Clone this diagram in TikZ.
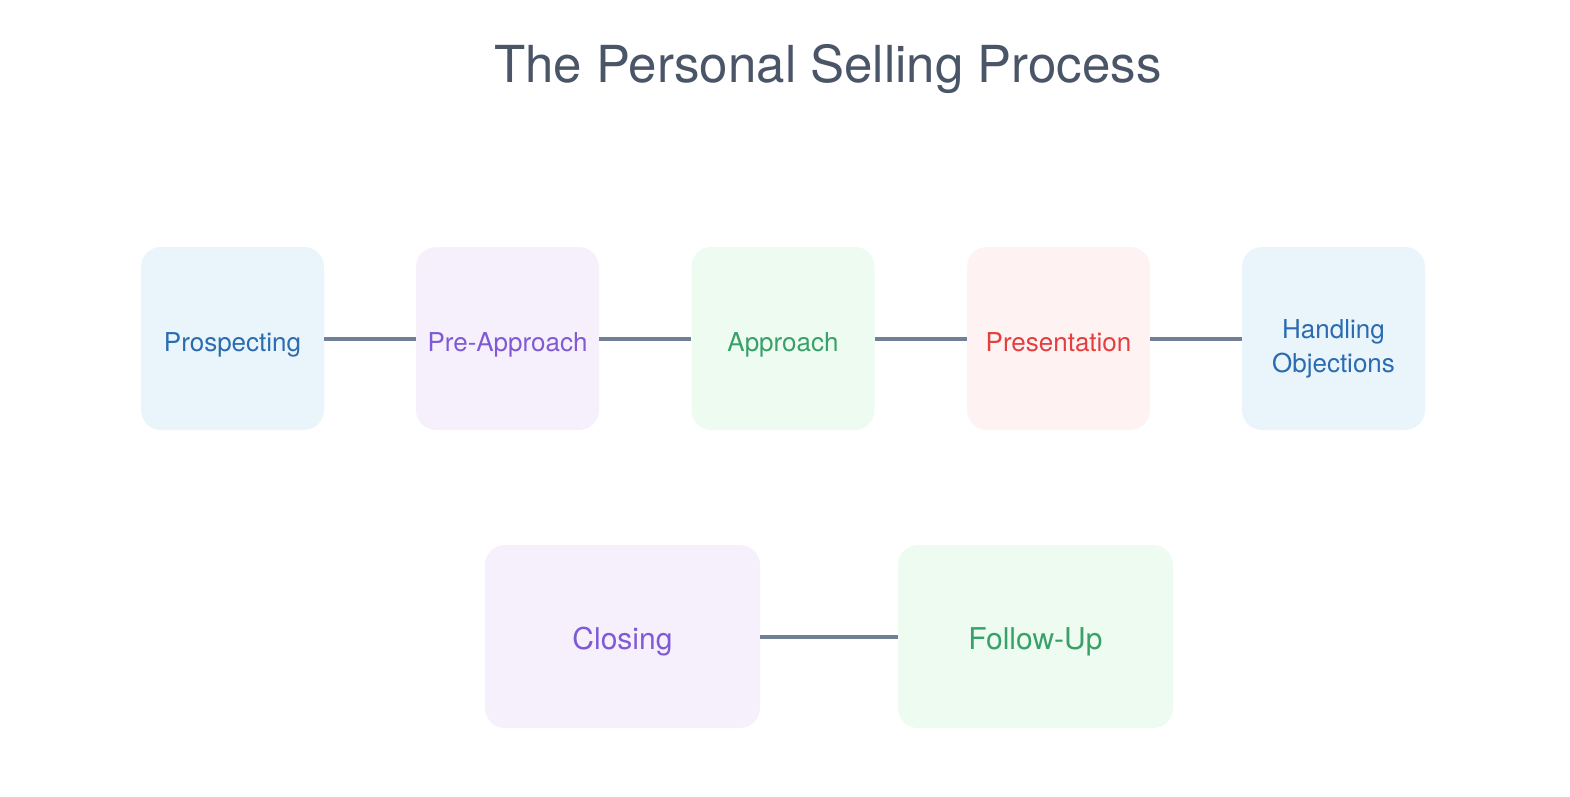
\documentclass[tikz,border=0pt]{standalone}
\usepackage{fontspec}
\setmainfont{TeX Gyre Heros}
\definecolor{ttl}{HTML}{4A5568}
\definecolor{ln}{HTML}{718096}
\definecolor{bluefill}{HTML}{EAF4FB}
\definecolor{bluetext}{HTML}{2B6CB0}
\definecolor{purpfill}{HTML}{F6F0FD}
\definecolor{purptext}{HTML}{805AD5}
\definecolor{greenfill}{HTML}{EDFBF0}
\definecolor{greentext}{HTML}{38A169}
\definecolor{redfill}{HTML}{FEF2F2}
\definecolor{redtext}{HTML}{E53E3E}
\tikzset{
  box/.style={rounded corners=20pt, minimum height=183pt, inner sep=0pt, align=center,
    text height=25pt, text depth=0pt, font=\fontsize{26}{34}\selectfont},
  sq/.style={box, minimum width=183pt},
  wide/.style={box, minimum width=275pt, font=\fontsize{30}{36}\selectfont},
  lbl/.style={inner sep=0pt, align=center, font=\fontsize{26}{34}\selectfont},
  conn/.style={ln, line width=4pt},
}
\begin{document}
\begin{tikzpicture}[x=1pt,y=-1pt]
\useasboundingbox[fill=white] (0,0) rectangle (1570,797);
\node[text=ttl, font=\fontsize{51}{60}\selectfont, anchor=base, inner sep=0pt] (title) at (828,83) {The Personal Selling Process};
\node[sq, fill=bluefill, text=bluetext] (p1) at (232.5,338.5) {Prospecting};
\node[sq, fill=purpfill, text=purptext] (p2) at (507.5,338.5) {Pre-Approach};
\node[sq, fill=greenfill, text=greentext] (p3) at (783,338.5) {Approach};
\node[sq, fill=redfill, text=redtext] (p4) at (1058.5,338.5) {Presentation};
\node[sq, fill=bluefill] (p5) at (1333.5,338.5) {};
\node[lbl, text=bluetext] (p5t) at ([yshift=-10pt]p5.center) {Handling\\Objections};
\node[wide, fill=purpfill, text=purptext] (p6) at (622.5,636.5) {Closing};
\node[wide, fill=greenfill, text=greentext] (p7) at (1035.5,636.5) {Follow-Up};
\draw[conn] (p1.east) -- (p2.west);
\draw[conn] (p2.east) -- (p3.west);
\draw[conn] (p3.east) -- (p4.west);
\draw[conn] (p4.east) -- (p5.west);
\draw[conn] (p6.east) -- (p7.west);
\end{tikzpicture}
\end{document}
